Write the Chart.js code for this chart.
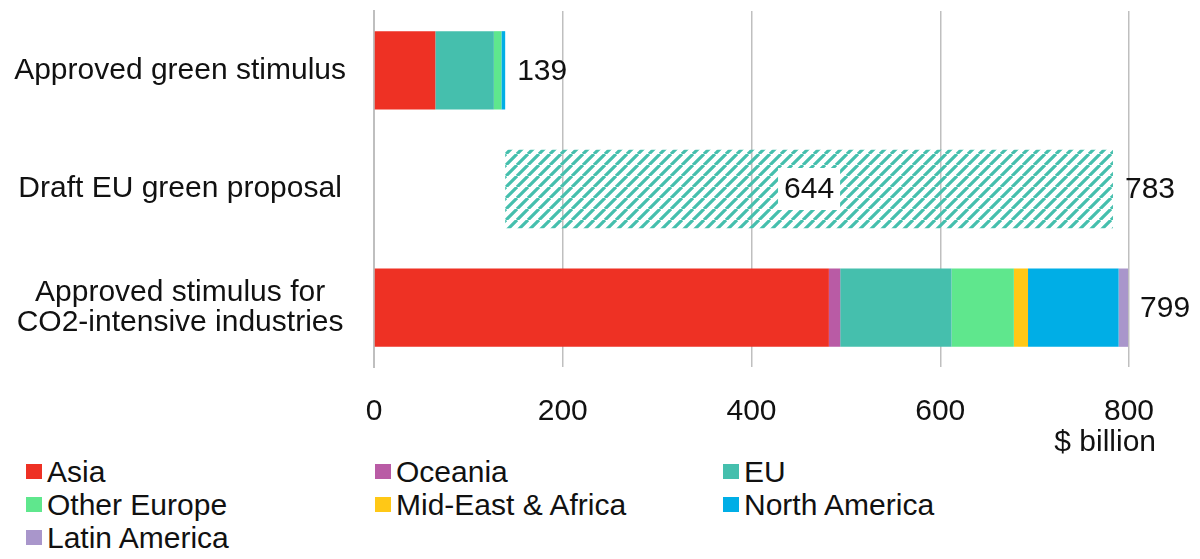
<!DOCTYPE html>
<html>
<head>
<meta charset="utf-8">
<script src="https://cdn.jsdelivr.net/npm/chart.js@4.4.0/dist/chart.umd.min.js"></script>
<style>
  body { margin: 0; background: #fff; font-family: "Liberation Sans", Arial, sans-serif; }
  #wrap { position: relative; width: 1200px; height: 455px; }
  #legend { display: grid; grid-template-columns: 349px 348px auto; margin-left: 26px; font-size: 30px; line-height: 33px; color: #111; }
  .item { display: flex; align-items: center; white-space: nowrap; }
  .box { width: 16px; height: 15px; margin-right: 5px; }
</style>
</head>
<body>
<div id="wrap"><canvas id="chart"></canvas></div>
<div id="legend"></div>
<script>
const categories = [
    "Approved green stimulus",
    "Draft EU green proposal",
    ["Approved stimulus for", "CO2-intensive industries"]
];

// $ billion, one value per category (the draft row only has the EU proposal)
const asia          = [65, null, 482];
const oceania       = [0, null, 12];
const eu            = [62, null, 118];
const otherEurope   = [8, null, 66];
const midEastAfrica = [0, null, 15];
const northAmerica  = [4, null, 96];
const latinAmerica  = [0, null, 10];
const draftEU       = [null, 644, null];

const xMax = 800;
const xStep = 200;
const unitLabel = "$ billion";

const FONT = "'Liberation Sans', Arial, sans-serif";
const TEXT = "#111";

const regions = [
    { label: "Asia", data: asia, color: "#ee3124" },
    { label: "Oceania", data: oceania, color: "#b95ba5" },
    { label: "EU", data: eu, color: "#45bfad" },
    { label: "Other Europe", data: otherEurope, color: "#5fe78d" },
    { label: "Mid-East & Africa", data: midEastAfrica, color: "#ffc816" },
    { label: "North America", data: northAmerica, color: "#00aee6" },
    { label: "Latin America", data: latinAmerica, color: "#a996cb" }
];

function total(i) {
    return regions.reduce((sum, r) => sum + (r.data[i] || 0), 0);
}

// the draft bar starts where the approved green stimulus ends
const greenTotal = total(0);

function makeHatch(color) {
    const s = 11;
    const c = document.createElement("canvas");
    c.width = s;
    c.height = s;
    const g = c.getContext("2d");
    g.strokeStyle = color;
    g.lineWidth = 3.2;
    g.beginPath();
    for (const x0 of [-s, 0, s]) {
        g.moveTo(x0, s);
        g.lineTo(x0 + s, 0);
    }
    g.stroke();
    return g.createPattern(c, "repeat");
}

const datasets = regions.map((r) => ({
    label: r.label,
    data: r.data,
    backgroundColor: r.color,
    borderWidth: 0
}));

datasets.push({
    label: "Draft EU green proposal",
    data: draftEU.map((v) => (v == null ? null : [greenTotal, greenTotal + v])),
    backgroundColor: makeHatch("#45bfad"),
    borderWidth: 0
});

const valueLabels = {
    id: "valueLabels",
    afterDatasetsDraw(chart) {
        const { ctx, scales: { x, y } } = chart;
        ctx.save();
        ctx.font = "30px " + FONT;
        ctx.fillStyle = TEXT;
        ctx.textBaseline = "middle";

        categories.forEach((c, i) => {
            const yy = y.getPixelForValue(i);
            let end = total(i);
            if (draftEU[i] != null) {
                end = greenTotal + draftEU[i];
                // value of the proposal itself, on a white box in the middle
                const mid = (x.getPixelForValue(greenTotal) + x.getPixelForValue(end)) / 2;
                const txt = String(draftEU[i]);
                const w = ctx.measureText(txt).width;
                ctx.fillStyle = "#fff";
                ctx.fillRect(mid - w / 2 - 6, yy - 21, w + 12, 42);
                ctx.fillStyle = TEXT;
                ctx.textAlign = "center";
                ctx.fillText(txt, mid, yy + 1);
            }
            ctx.textAlign = "left";
            ctx.fillText(String(end), x.getPixelForValue(end) + 12, yy + 1);
        });

        ctx.textAlign = "right";
        ctx.fillText(unitLabel, x.right + 27, 443);
        ctx.restore();
    }
};

new Chart(document.getElementById("chart"), {
    type: "bar",
    data: { labels: categories, datasets },
    options: {
        indexAxis: "y",
        responsive: true,
        maintainAspectRatio: false,
        animation: false,
        categoryPercentage: 1,
        barPercentage: 0.66,
        layout: { padding: { top: 11, right: 71, left: 0, bottom: 0 } },
        plugins: {
            legend: { display: false },
            tooltip: { enabled: false }
        },
        scales: {
            x: {
                stacked: true,
                min: 0,
                max: xMax,
                ticks: { stepSize: xStep, color: TEXT, font: { size: 30, family: FONT }, padding: 27 },
                grid: { color: "#bfbfbf", lineWidth: 1.5, drawTicks: false },
                border: { display: false },
                afterFit(scale) {
                    scale.height = 88;
                    scale.paddingLeft = 0;
                    scale.paddingRight = 0;
                }
            },
            y: {
                stacked: true,
                grid: { display: false, drawTicks: false },
                border: { display: true, color: "#bfbfbf", width: 2 },
                ticks: {
                    color: TEXT,
                    font: { size: 30, family: FONT, lineHeight: 1.02 },
                    crossAlign: "center",
                    padding: 28
                },
                afterFit(scale) {
                    scale.width = 374;
                    // labels sit inside their bands, no extra room needed
                    scale.paddingTop = 0;
                    scale.paddingBottom = 0;
                }
            }
        }
    },
    plugins: [valueLabels]
});

// legend in three fixed columns, like the original
const legend = document.getElementById("legend");
regions.forEach((r) => {
    const item = document.createElement("div");
    item.className = "item";
    const box = document.createElement("span");
    box.className = "box";
    box.style.backgroundColor = r.color;
    item.appendChild(box);
    item.appendChild(document.createTextNode(r.label));
    legend.appendChild(item);
});
</script>
</body>
</html>
